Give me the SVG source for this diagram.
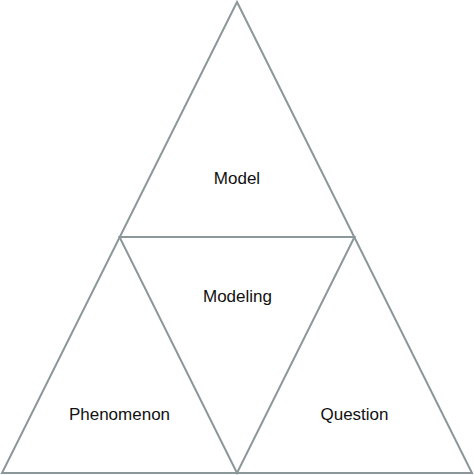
<svg xmlns="http://www.w3.org/2000/svg" width="474" height="475" viewBox="0 0 474 475">
<style>
.edge{fill:none;stroke:#8c979a;stroke-width:2;stroke-linejoin:miter}
.lbl{font-family:"Liberation Sans",Arial,sans-serif;font-size:17px;fill:#111;text-anchor:middle}
</style>
<rect width="474" height="475" fill="#fff"/>
<g id="connectors">
<polygon class="edge" points="237,2 472,473 2,473"/>
<polygon class="edge" points="119.5,237 354.5,237 237,473"/>
</g>
<g id="model"><text class="lbl" x="237" y="184">Model</text></g>
<g id="modeling"><text class="lbl" x="237.5" y="302">Modeling</text></g>
<g id="phenomenon"><text class="lbl" x="119.5" y="420">Phenomenon</text></g>
<g id="question"><text class="lbl" x="354.5" y="420">Question</text></g>
</svg>
